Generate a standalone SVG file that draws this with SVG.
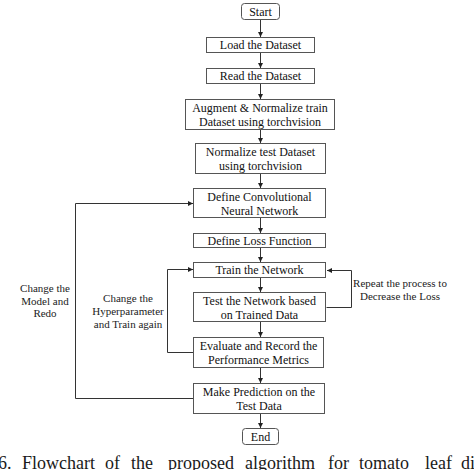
<svg xmlns="http://www.w3.org/2000/svg" width="474" height="470" viewBox="0 0 474 470">
<style>
.box{fill:#fff;stroke:#555;stroke-width:1}
.t{font-family:"Liberation Serif","Times New Roman",serif;font-size:12px;fill:#111;text-anchor:middle}
.lbl{font-family:"Liberation Serif","Times New Roman",serif;font-size:11px;fill:#222;text-anchor:middle}
.cap{font-family:"Liberation Serif","Times New Roman",serif;font-size:18px;fill:#1a1a1a}
.c{stroke:#333;stroke-width:1;fill:none}
</style>
<defs>
<marker id="ah" markerUnits="userSpaceOnUse" markerWidth="5" markerHeight="5" refX="5" refY="2.5" viewBox="0 0 5 5" orient="auto">
<path d="M0,0 L5,2.5 L0,5 z" fill="#222"/>
</marker>
</defs>
<rect width="474" height="470" fill="#fff"/>
<g id="connectors">
<path class="c" marker-end="url(#ah)" d="M260.5,19.5 V37"/>
<path class="c" marker-end="url(#ah)" d="M260.5,52.5 V68"/>
<path class="c" marker-end="url(#ah)" d="M260.5,83.5 V99"/>
<path class="c" marker-end="url(#ah)" d="M260.5,129.5 V143"/>
<path class="c" marker-end="url(#ah)" d="M260.5,173.5 V188"/>
<path class="c" marker-end="url(#ah)" d="M260.5,217.5 V233"/>
<path class="c" marker-end="url(#ah)" d="M260.5,247.5 V262"/>
<path class="c" marker-end="url(#ah)" d="M260.5,277.5 V292"/>
<path class="c" marker-end="url(#ah)" d="M260.5,321.5 V337"/>
<path class="c" marker-end="url(#ah)" d="M260.5,367.5 V383"/>
<path class="c" marker-end="url(#ah)" d="M260.5,413.5 V428"/>
<path class="c" marker-end="url(#ah)" d="M193.5,398.5 H75.5 V203.5 H193"/>
<path class="c" marker-end="url(#ah)" d="M193.5,352.5 H167.5 V269.5 H193"/>
<path class="c" marker-end="url(#ah)" d="M326.5,307.5 H351.5 V270.5 H327"/>
</g>
<g id="start"><rect class="box" x="241.5" y="3.5" width="38" height="16" rx="3"/><text class="t" x="260.5" y="15.5">Start</text></g>
<g id="load"><rect class="box" x="206.5" y="37.5" width="108" height="15"/><text class="t" x="260.5" y="49">Load the Dataset</text></g>
<g id="read"><rect class="box" x="206.5" y="68.5" width="108" height="15"/><text class="t" x="260.5" y="80">Read the Dataset</text></g>
<g id="augment"><rect class="box" x="185.5" y="99.5" width="149" height="30"/><text class="t" x="260" y="112">Augment &amp; Normalize train</text><text class="t" x="260" y="126">Dataset using torchvision</text></g>
<g id="normalize"><rect class="box" x="195.5" y="143.5" width="130" height="30"/><text class="t" x="260.5" y="156">Normalize test Dataset</text><text class="t" x="260.5" y="170">using torchvision</text></g>
<g id="cnn"><rect class="box" x="193.5" y="188.5" width="132" height="29"/><text class="t" x="259.5" y="201">Define Convolutional</text><text class="t" x="259.5" y="215">Neural Network</text></g>
<g id="loss"><rect class="box" x="193.5" y="233.5" width="132" height="14"/><text class="t" x="259.5" y="244.5">Define Loss Function</text></g>
<g id="train"><rect class="box" x="193.5" y="262.5" width="132" height="15"/><text class="t" x="259.5" y="274">Train the Network</text></g>
<g id="test"><rect class="box" x="193.5" y="292.5" width="132" height="29"/><text class="t" x="259.5" y="305">Test the Network based</text><text class="t" x="259.5" y="319">on Trained Data</text></g>
<g id="evaluate"><rect class="box" x="193.5" y="337.5" width="130" height="30"/><text class="t" x="258.5" y="350">Evaluate and Record the</text><text class="t" x="258.5" y="364">Performance Metrics</text></g>
<g id="predict"><rect class="box" x="193.5" y="383.5" width="131" height="30"/><text class="t" x="259" y="396">Make Prediction on the</text><text class="t" x="259" y="410">Test Data</text></g>
<g id="end"><rect class="box" x="242.5" y="428.5" width="36" height="16" rx="3"/><text class="t" x="260.5" y="440.5">End</text></g>
<g id="labels">
<text class="lbl" x="45" y="292">Change the</text>
<text class="lbl" x="45" y="305">Model and</text>
<text class="lbl" x="45" y="317">Redo</text>
<text class="lbl" x="128" y="302">Change the</text>
<text class="lbl" x="128" y="315">Hyperparameter</text>
<text class="lbl" x="128" y="328">and Train again</text>
<text class="lbl" x="400" y="287">Repeat the process to</text>
<text class="lbl" x="400" y="300">Decrease the Loss</text>
</g>
<text class="cap" y="469"><tspan x="-2">6.</tspan><tspan x="22">Flowchart</tspan><tspan x="105">of</tspan><tspan x="131">the</tspan><tspan x="168">proposed</tspan><tspan x="245">algorithm</tspan><tspan x="328">for</tspan><tspan x="359">tomato</tspan><tspan x="425">leaf</tspan><tspan x="461">di</tspan></text>
</svg>
